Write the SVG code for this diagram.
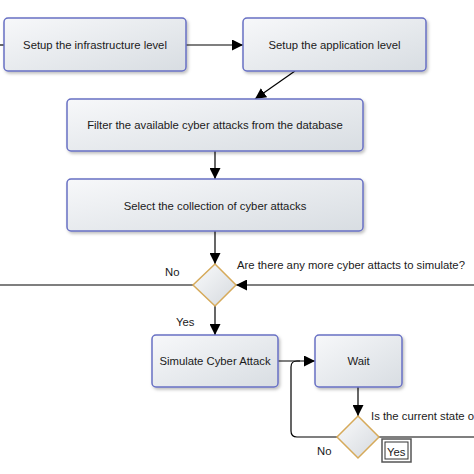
<svg xmlns="http://www.w3.org/2000/svg" width="474" height="474" viewBox="0 0 474 474">
<defs>
<linearGradient id="gb" x1="0" y1="0" x2="1" y2="1">
<stop offset="0" stop-color="#f7f8fa"/>
<stop offset="1" stop-color="#d8dde2"/>
</linearGradient>
<linearGradient id="gd" x1="0" y1="0" x2="1" y2="1">
<stop offset="0" stop-color="#fafbfc"/>
<stop offset="1" stop-color="#d5d9de"/>
</linearGradient>
<filter id="sh" x="-10%" y="-10%" width="130%" height="140%">
<feDropShadow dx="1.5" dy="2" stdDeviation="1.5" flood-color="#000" flood-opacity="0.25"/>
</filter>
<marker id="ah" viewBox="0 0 10 10" refX="10" refY="5" markerWidth="11" markerHeight="11" markerUnits="userSpaceOnUse" orient="auto">
<path d="M0,0 L10,5 L0,10 Z" fill="#000"/>
</marker>
</defs>
<style>
.box{fill:url(#gb);stroke:#6870c4;stroke-width:1.5;filter:url(#sh)}
.dia{fill:url(#gd);stroke:#d6aa5a;stroke-width:1.5}
.ln{fill:none;stroke:#000;stroke-width:1.2}
text{font-family:"Liberation Sans",Arial,sans-serif;font-size:11.3px;fill:#1a1a1a}
.c{text-anchor:middle}
</style>
<rect width="474" height="474" fill="#fff"/>
<g id="connectors">
<line class="ln" x1="0" y1="45" x2="4" y2="45"/>
<line class="ln" x1="186" y1="45" x2="243" y2="45" marker-end="url(#ah)"/>
<line class="ln" x1="295" y1="71" x2="255" y2="99" marker-end="url(#ah)"/>
<line class="ln" x1="215" y1="151" x2="215" y2="179" marker-end="url(#ah)"/>
<line class="ln" x1="215" y1="231" x2="215" y2="264" marker-end="url(#ah)"/>
<line class="ln" x1="0" y1="285" x2="193" y2="285"/>
<line class="ln" x1="474" y1="285" x2="236" y2="285" marker-end="url(#ah)"/>
<line class="ln" x1="215" y1="306" x2="215" y2="335" marker-end="url(#ah)"/>
<line class="ln" x1="278" y1="361" x2="315" y2="361" marker-end="url(#ah)"/>
<path class="ln" d="M337,437 H297 Q291,437 291,431 V367 Q291,361 297,361 H300"/>
<line class="ln" x1="358" y1="387" x2="358" y2="416" marker-end="url(#ah)"/>
<line class="ln" x1="379" y1="437" x2="474" y2="437"/>
</g>
<g id="n1"><rect class="box" x="4" y="18" width="182" height="53" rx="4"/><text class="c" x="95" y="49">Setup the infrastructure level</text></g>
<g id="n2"><rect class="box" x="243" y="18" width="183" height="53" rx="4"/><text class="c" x="334.5" y="49">Setup the application level</text></g>
<g id="n3"><rect class="box" x="67" y="99" width="296" height="52" rx="4"/><text class="c" x="215" y="129">Filter the available cyber attacks from the database</text></g>
<g id="n4"><rect class="box" x="67" y="179" width="296" height="52" rx="4"/><text class="c" x="215" y="210">Select the collection of cyber attacks</text></g>
<g id="d1"><polygon class="dia" points="215,264 236,285 215,306 193,285"/>
<text x="237" y="269">Are there any more cyber attacts to simulate?</text>
<text x="165" y="276">No</text>
<text x="176" y="326">Yes</text></g>
<g id="n5"><rect class="box" x="152" y="335" width="126" height="52" rx="4"/><text class="c" x="215" y="365">Simulate Cyber Attack</text></g>
<g id="n6"><rect class="box" x="315" y="335" width="87" height="52" rx="4"/><text class="c" x="358.5" y="365">Wait</text></g>
<g id="d2"><polygon class="dia" points="358,416 379,437 358,458 337,437"/>
<text x="371" y="420">Is the current state o</text>
<text x="317" y="455">No</text>
<rect x="382" y="439" width="29" height="23" fill="#fff" stroke="#555" stroke-width="1.5"/>
<rect x="385" y="442" width="23" height="17" fill="#fff" stroke="#333" stroke-width="1"/>
<text x="387" y="456">Yes</text></g>
</svg>
